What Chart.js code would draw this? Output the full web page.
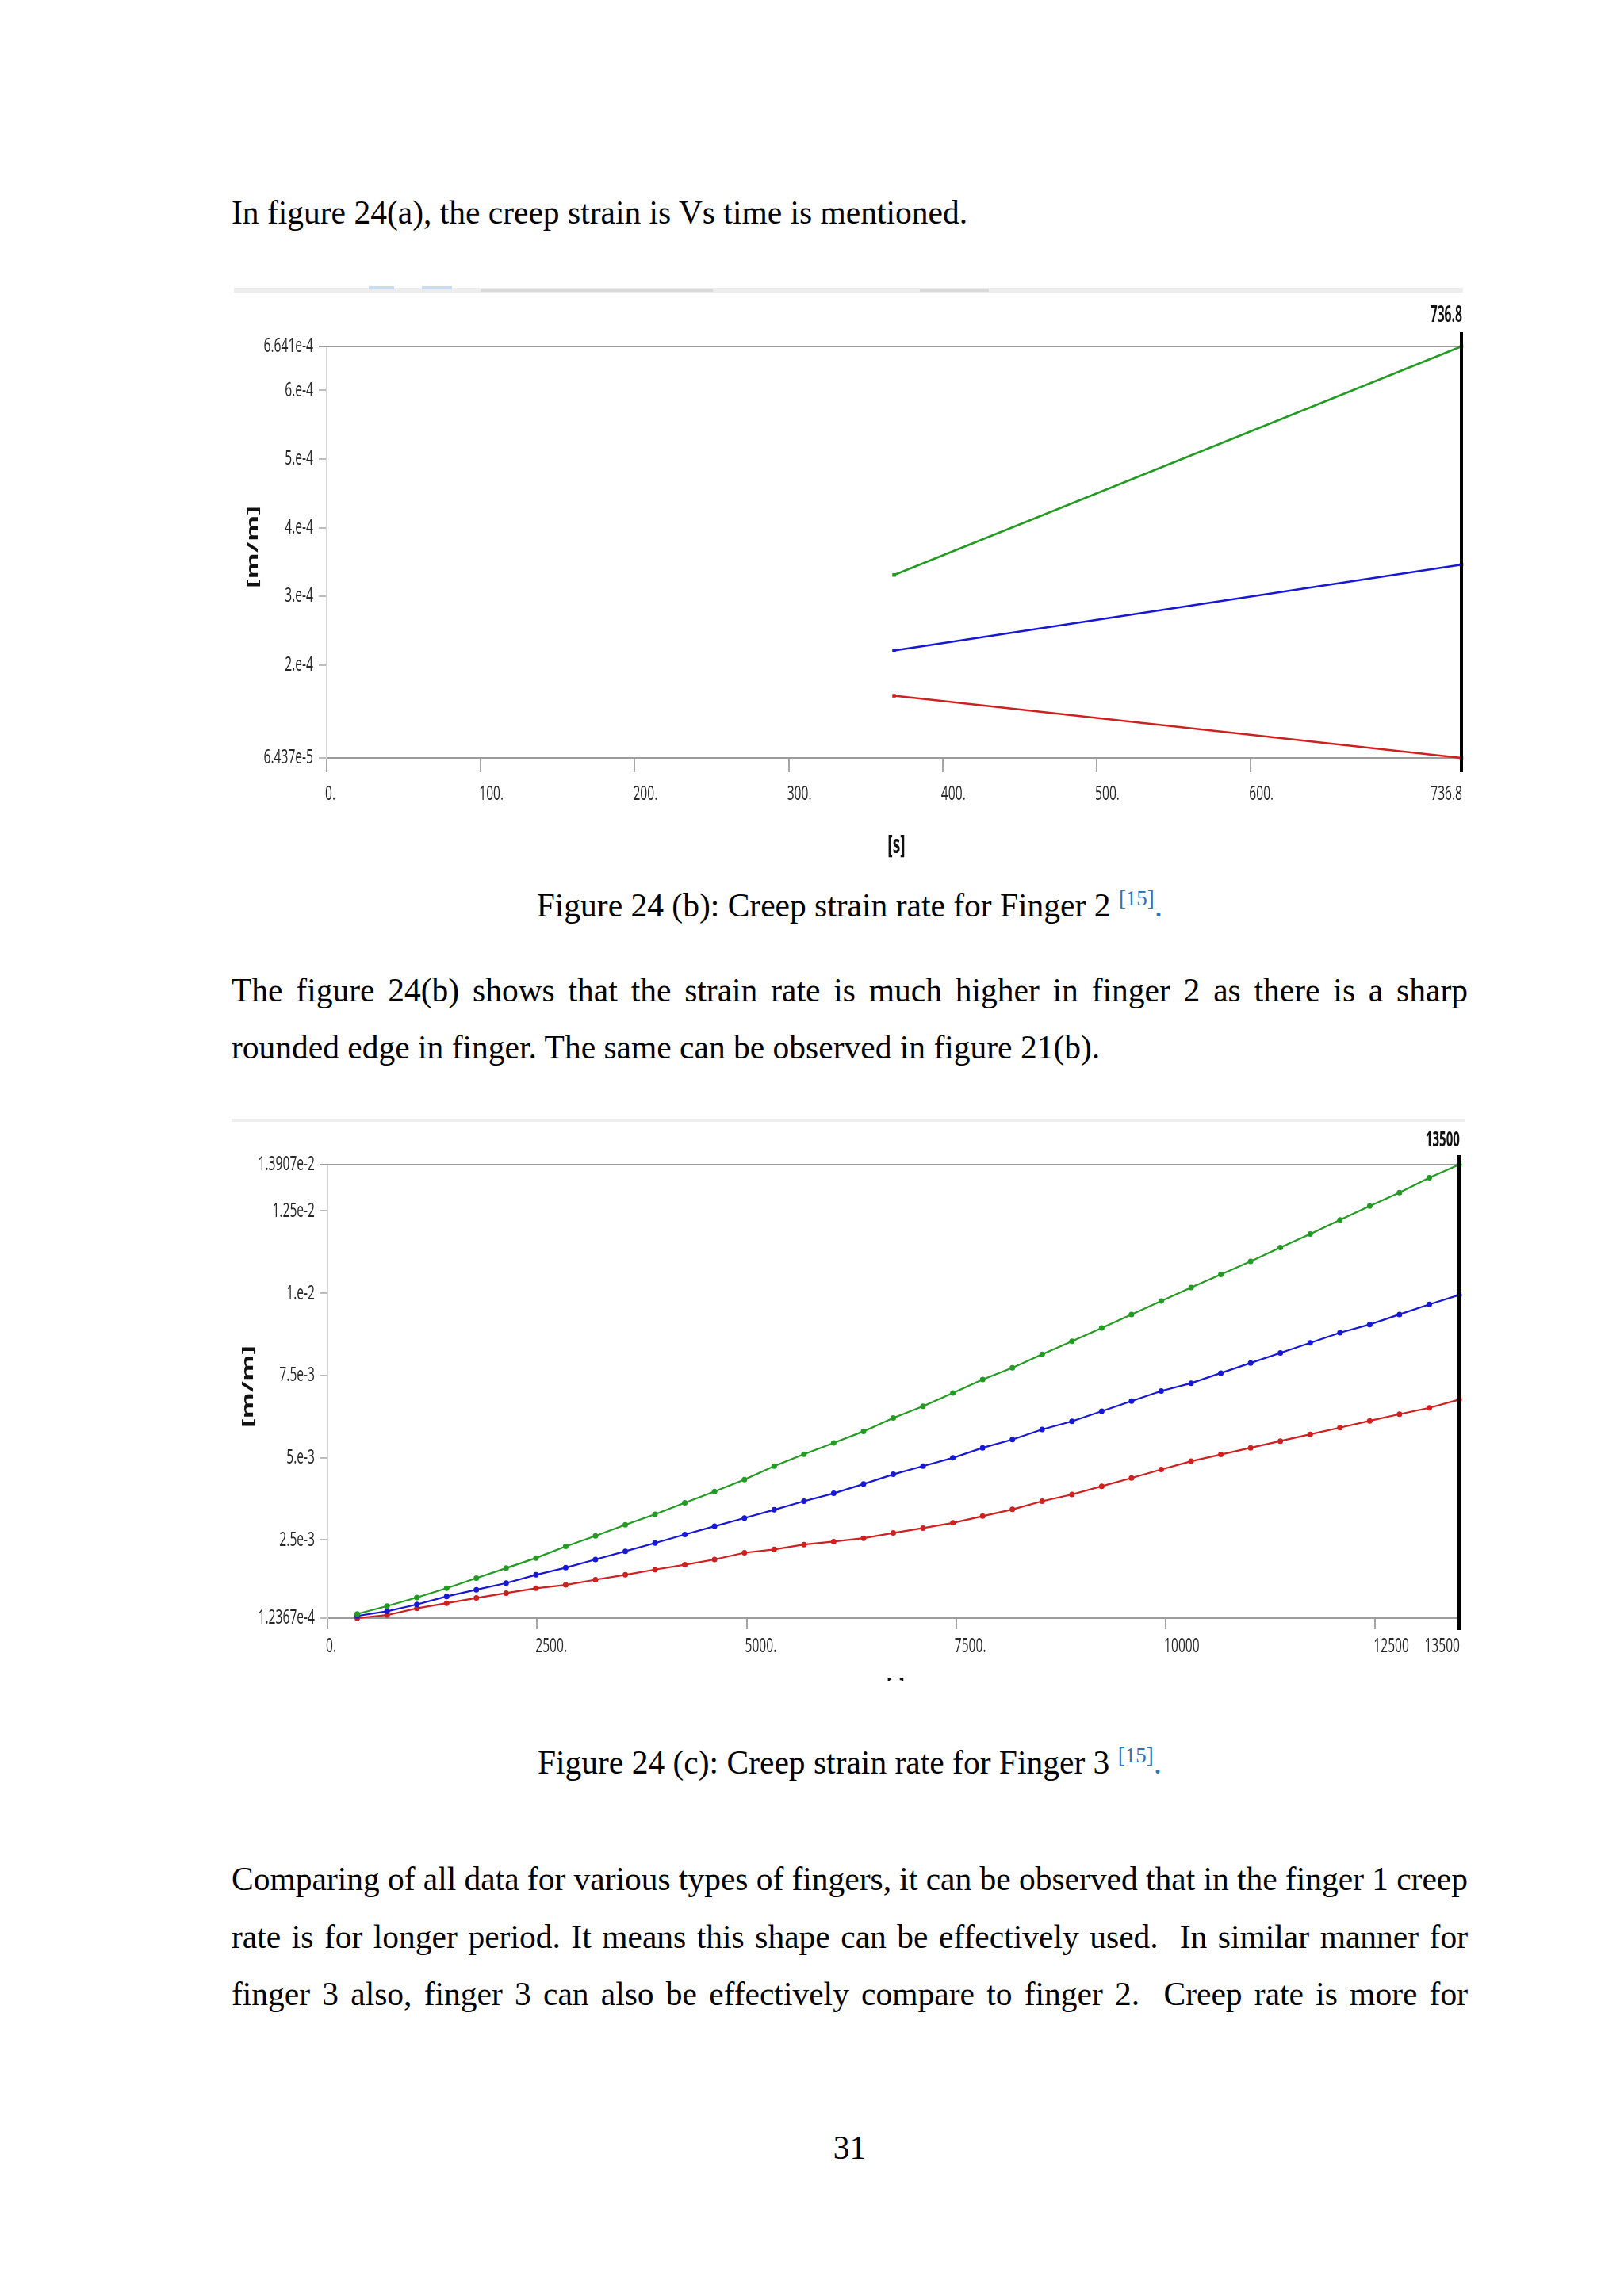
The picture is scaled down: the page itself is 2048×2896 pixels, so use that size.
<!DOCTYPE html>
<html>
<head>
<meta charset="utf-8">
<script src="https://cdn.jsdelivr.net/npm/chart.js@4.4.0/dist/chart.umd.min.js"></script>
<style>
html,body{margin:0;padding:0;background:#fff;}
body{width:2048px;height:2896px;position:relative;overflow:hidden;font-family:"Liberation Serif","Times New Roman",serif;color:#000;}
.t{position:absolute;font-size:41.5px;line-height:41.5px;white-space:pre;}
.c{left:292px;width:1559px;text-align:center;}
.j{left:292px;}
sup{font-size:27px;color:#2e75b6;vertical-align:baseline;position:relative;top:-14px;}
.blue{color:#2e75b6;}
.band{position:absolute;}
.box{position:absolute;overflow:hidden;}
canvas{display:block;}
</style>
</head>
<body>

<div class="t j" style="top:248px;"><span>In figure 24(a), the creep strain is Vs time is mentioned.</span></div>

<!-- chart 1 frame remnants -->
<div class="band" style="left:295px;top:363px;width:1550px;height:6px;background:#ededed;"></div>
<div class="band" style="left:465px;top:361px;width:32px;height:4px;background:#c9dcf2;"></div>
<div class="band" style="left:532px;top:361px;width:38px;height:4px;background:#c9dcf2;"></div>
<div class="band" style="left:606px;top:364px;width:293px;height:4px;background:#d9d9d9;"></div>
<div class="band" style="left:1160px;top:364px;width:87px;height:4px;background:#d9d9d9;"></div>
<div class="box" style="left:295px;top:365px;width:1555px;height:725px;"><canvas id="c1" width="1555" height="725" style="width:1555px;height:725px;"></canvas></div>

<div class="t c" style="top:1122px;">Figure 24 (b): Creep strain rate for Finger 2 <sup>[15]</sup><span class="blue">.</span></div>

<div class="t j jj" style="top:1229px;"><span>The figure 24(b) shows that the strain rate is much higher in finger 2 as there is a sharp</span></div>
<div class="t j" style="top:1301px;"><span>rounded edge in finger. The same can be observed in figure 21(b).</span></div>

<!-- chart 2 frame -->
<div class="band" style="left:292px;top:1411px;width:1556px;height:4px;background:#efefef;"></div>
<div class="box" style="left:295px;top:1414px;width:1555px;height:706px;"><canvas id="c2" width="1555" height="706" style="width:1555px;height:706px;"></canvas></div>

<div class="t c" style="top:2203px;">Figure 24 (c): Creep strain rate for Finger 3 <sup>[15]</sup><span class="blue">.</span></div>

<div class="t j jj" style="top:2350px;"><span>Comparing of all data for various types of fingers, it can be observed that in the finger 1 creep</span></div>
<div class="t j jj" style="top:2423px;"><span>rate is for longer period. It means this shape can be effectively used.  In similar manner for</span></div>
<div class="t j jj" style="top:2495px;"><span>finger 3 also, finger 3 can also be effectively compare to finger 2.  Creep rate is more for</span></div>

<div class="t c" style="top:2689px;">31</div>

<script>
// ---------------- DATA: Figure 24(b), Finger 2 ----------------
const time1 = [368.4, 736.8];
const green1 = [3.31e-4, 6.641e-4];
const blue1 = [2.21e-4, 3.46e-4];
const red1 = [1.55e-4, 6.437e-5];
const x1Ticks = [0, 100, 200, 300, 400, 500, 600, 736.8];
const x1Labels = ['0.', '100.', '200.', '300.', '400.', '500.', '600.', '736.8'];
const y1Ticks = [6.437e-5, 2e-4, 3e-4, 4e-4, 5e-4, 6e-4, 6.641e-4];
const y1Labels = ['6.437e-5', '2.e-4', '3.e-4', '4.e-4', '5.e-4', '6.e-4', '6.641e-4'];
const cursor1 = 736.8;
const cursor1Label = '736.8';

// ---------------- DATA: Figure 24(c), Finger 3 ----------------
const time2 = [355, 711, 1066, 1421, 1776, 2132, 2487, 2842, 3197, 3553,
  3908, 4263, 4618, 4974, 5329, 5684, 6039, 6395, 6750, 7105,
  7461, 7816, 8171, 8526, 8882, 9237, 9592, 9947, 10303, 10658,
  11013, 11368, 11724, 12079, 12434, 12789, 13145, 13500];
const green2 = [2.5e-4, 4.9e-4, 7.5e-4, 1.032e-3, 1.339e-3, 1.645e-3, 1.952e-3, 2.304e-3, 2.622e-3, 2.962e-3,
  3.280e-3, 3.632e-3, 3.973e-3, 4.336e-3, 4.745e-3, 5.108e-3, 5.449e-3, 5.801e-3, 6.210e-3, 6.562e-3,
  6.970e-3, 7.379e-3, 7.731e-3, 8.140e-3, 8.537e-3, 8.946e-3, 9.355e-3, 9.763e-3, 1.0172e-2, 1.0569e-2,
  1.0967e-2, 1.1387e-2, 1.1796e-2, 1.2227e-2, 1.2647e-2, 1.3056e-2, 1.3510e-2, 1.3907e-2];
const blue2 = [1.9e-4, 3.3e-4, 5.4e-4, 7.83e-4, 9.87e-4, 1.191e-3, 1.441e-3, 1.657e-3, 1.907e-3, 2.156e-3,
  2.406e-3, 2.667e-3, 2.917e-3, 3.167e-3, 3.417e-3, 3.678e-3, 3.916e-3, 4.200e-3, 4.495e-3, 4.745e-3,
  4.995e-3, 5.301e-3, 5.551e-3, 5.858e-3, 6.107e-3, 6.414e-3, 6.720e-3, 7.027e-3, 7.265e-3, 7.572e-3,
  7.879e-3, 8.185e-3, 8.492e-3, 8.798e-3, 9.048e-3, 9.355e-3, 9.661e-3, 9.945e-3];
const red2 = [1.2367e-4, 2.15e-4, 4.2e-4, 5.78e-4, 7.37e-4, 8.85e-4, 1.032e-3, 1.134e-3, 1.293e-3, 1.441e-3,
  1.600e-3, 1.748e-3, 1.907e-3, 2.111e-3, 2.213e-3, 2.361e-3, 2.452e-3, 2.554e-3, 2.713e-3, 2.860e-3,
  3.019e-3, 3.224e-3, 3.428e-3, 3.678e-3, 3.882e-3, 4.132e-3, 4.382e-3, 4.643e-3, 4.893e-3, 5.097e-3,
  5.301e-3, 5.506e-3, 5.710e-3, 5.914e-3, 6.119e-3, 6.323e-3, 6.516e-3, 6.766e-3];
const x2Ticks = [0, 2500, 5000, 7500, 10000, 12500, 13500];
const x2Labels = ['0.', '2500.', '5000.', '7500.', '10000', '12500', '13500'];
const y2Ticks = [1.2367e-4, 2.5e-3, 5e-3, 7.5e-3, 1e-2, 1.25e-2, 1.3907e-2];
const y2Labels = ['1.2367e-4', '2.5e-3', '5.e-3', '7.5e-3', '1.e-2', '1.25e-2', '1.3907e-2'];
const cursor2 = 13500;
const cursor2Label = '13500';

const yTitle = '[m/m]';
const xTitle = '[s]';
const COLORS = {green: '#239b23', blue: '#1717d6', red: '#cf2020'};

// ---------------- helpers ----------------
function sq(ctx, text, x, y, align, font, color, sx) {
  ctx.save();
  ctx.translate(x, y);
  ctx.scale(sx, 1);
  ctx.font = font;
  ctx.fillStyle = color;
  ctx.textAlign = align;
  ctx.textBaseline = 'middle';
  ctx.fillText(text, 0, 0);
  ctx.restore();
}

function buildChart(id, d, g) {
  const series = [[d.green, COLORS.green], [d.blue, COLORS.blue], [d.red, COLORS.red]];
  const datasets = series.map(([vals, col]) => ({
    data: d.time.map((t, i) => ({x: t, y: vals[i]})),
    borderColor: col,
    backgroundColor: col,
    borderWidth: g.lineW,
    pointRadius: g.ptR,
    pointStyle: g.ptStyle,
    pointBorderWidth: 0,
    pointHoverRadius: g.ptR,
    tension: 0,
    clip: false
  }));

  const drawPlugin = {
    id: 'annot' + id,
    beforeDatasetsDraw(chart) {
      const {ctx, chartArea: a} = chart;
      ctx.save();
      ctx.strokeStyle = '#9c9c9c';
      ctx.lineWidth = 2;
      ctx.beginPath();
      ctx.moveTo(a.left - g.yTickLen, a.top);
      ctx.lineTo(a.right, a.top);
      ctx.stroke();
      ctx.restore();
    },
    afterDatasetsDraw(chart) {
      const {ctx, chartArea: a, scales: {x, y}} = chart;
      const cx = x.getPixelForValue(d.cursor);
      ctx.save();
      ctx.strokeStyle = '#000';
      ctx.lineWidth = 4;
      ctx.beginPath();
      ctx.moveTo(cx, g.cursorTop);
      ctx.lineTo(cx, a.bottom + g.cursorBelow);
      ctx.stroke();
      ctx.restore();
      sq(ctx, d.cursorLabel, cx + 1, g.cursorLabelY, 'right', 'bold ' + g.curFont + 'px "Open Sans"', '#111', 0.56);

      d.yTicks.forEach((v, i) => {
        sq(ctx, d.yLabels[i], a.left - g.yLabGap, y.getPixelForValue(v), 'right',
          g.tickFont + 'px "Open Sans"', '#262626', 0.6);
      });
      d.xTicks.forEach((v, i) => {
        const last = i === d.xTicks.length - 1;
        sq(ctx, d.xLabels[i], x.getPixelForValue(v) + (last ? 1 : -2), a.bottom + g.xLabGap,
          last ? 'right' : 'left', g.tickFont + 'px "Open Sans"', '#262626', 0.6);
      });
      ctx.save();
      ctx.translate(g.yTitleX, g.yTitleY);
      ctx.scale(0.6, 1);
      ctx.rotate(-Math.PI / 2);
      ctx.font = 'bold 34px "Open Sans"';
      ctx.fillStyle = '#111';
      ctx.textAlign = 'center';
      ctx.textBaseline = 'middle';
      ctx.fillText(yTitle, 0, 0);
      ctx.restore();
      sq(ctx, xTitle, (a.left + a.right) / 2 + 3, g.xTitleY, 'center', 'bold 32px "Open Sans"', '#111', 0.6);
    }
  };

  return new Chart(document.getElementById(id), {
    type: 'line',
    data: {datasets},
    plugins: [drawPlugin],
    options: {
      responsive: false,
      animation: false,
      devicePixelRatio: 1,
      events: [],
      layout: {padding: {left: 0, top: g.top, right: g.right, bottom: 0}},
      plugins: {legend: {display: false}, tooltip: {enabled: false}},
      scales: {
        x: {
          type: 'linear',
          min: 0,
          max: d.xMax,
          afterBuildTicks: s => { s.ticks = d.xTicks.map(v => ({value: v})); },
          afterFit: s => { s.height = g.bottom; },
          ticks: {display: false},
          grid: {drawOnChartArea: false, drawTicks: true, tickLength: g.xTickLen, color: '#a6a6a6', lineWidth: 2},
          border: {display: true, color: '#9c9c9c', width: 2}
        },
        y: {
          type: 'linear',
          min: d.yMin,
          max: d.yMax,
          afterBuildTicks: s => { s.ticks = d.yTicks.map(v => ({value: v})); },
          afterFit: s => { s.width = g.left; },
          ticks: {display: false},
          grid: {drawOnChartArea: false, drawTicks: true, tickLength: g.yTickLen, color: '#bdbdbd', lineWidth: 2},
          border: {display: true, color: '#d6d6d6', width: 2}
        }
      }
    }
  });
}

function layoutText() {
  document.querySelectorAll('.jj').forEach(div => {
    const s = div.firstElementChild;
    div.style.wordSpacing = '0px';
    const w = s.getBoundingClientRect().width;
    const n = (s.textContent.match(/ /g) || []).length;
    if (n) div.style.wordSpacing = ((1559 - w) / n) + 'px';
  });
}

function init() {
  layoutText();
  buildChart('c1', {
    time: time1, green: green1, blue: blue1, red: red1,
    xTicks: x1Ticks, xLabels: x1Labels, yTicks: y1Ticks, yLabels: y1Labels,
    xMax: x1Ticks[x1Ticks.length - 1], yMin: y1Ticks[0], yMax: y1Ticks[y1Ticks.length - 1],
    cursor: cursor1, cursorLabel: cursor1Label
  }, {
    top: 72, right: 7, left: 117, bottom: 134,
    lineW: 2.6, ptR: 3.2, ptStyle: 'rect',
    xTickLen: 18, yTickLen: 10, yLabGap: 17, xLabGap: 46, tickFont: 26, curFont: 28,
    cursorTop: 54, cursorBelow: 18, cursorLabelY: 33,
    yTitleX: 24, yTitleY: 325, xTitleY: 702
  });
  buildChart('c2', {
    time: time2, green: green2, blue: blue2, red: red2,
    xTicks: x2Ticks, xLabels: x2Labels, yTicks: y2Ticks, yLabels: y2Labels,
    xMax: x2Ticks[x2Ticks.length - 1], yMin: y2Ticks[0], yMax: y2Ticks[y2Ticks.length - 1],
    cursor: cursor2, cursorLabel: cursor2Label
  }, {
    top: 55, right: 10, left: 118, bottom: 79,
    lineW: 2.2, ptR: 3.5, ptStyle: 'circle',
    xTickLen: 14, yTickLen: 10, yLabGap: 16, xLabGap: 36, tickFont: 26, curFont: 27,
    cursorTop: 43, cursorBelow: 15, cursorLabelY: 24,
    yTitleX: 18, yTitleY: 335, xTitleY: 716
  });
}

if (document.fonts && document.fonts.ready) {
  document.fonts.ready.then(init);
} else {
  window.addEventListener('load', init);
}
</script>
</body>
</html>
